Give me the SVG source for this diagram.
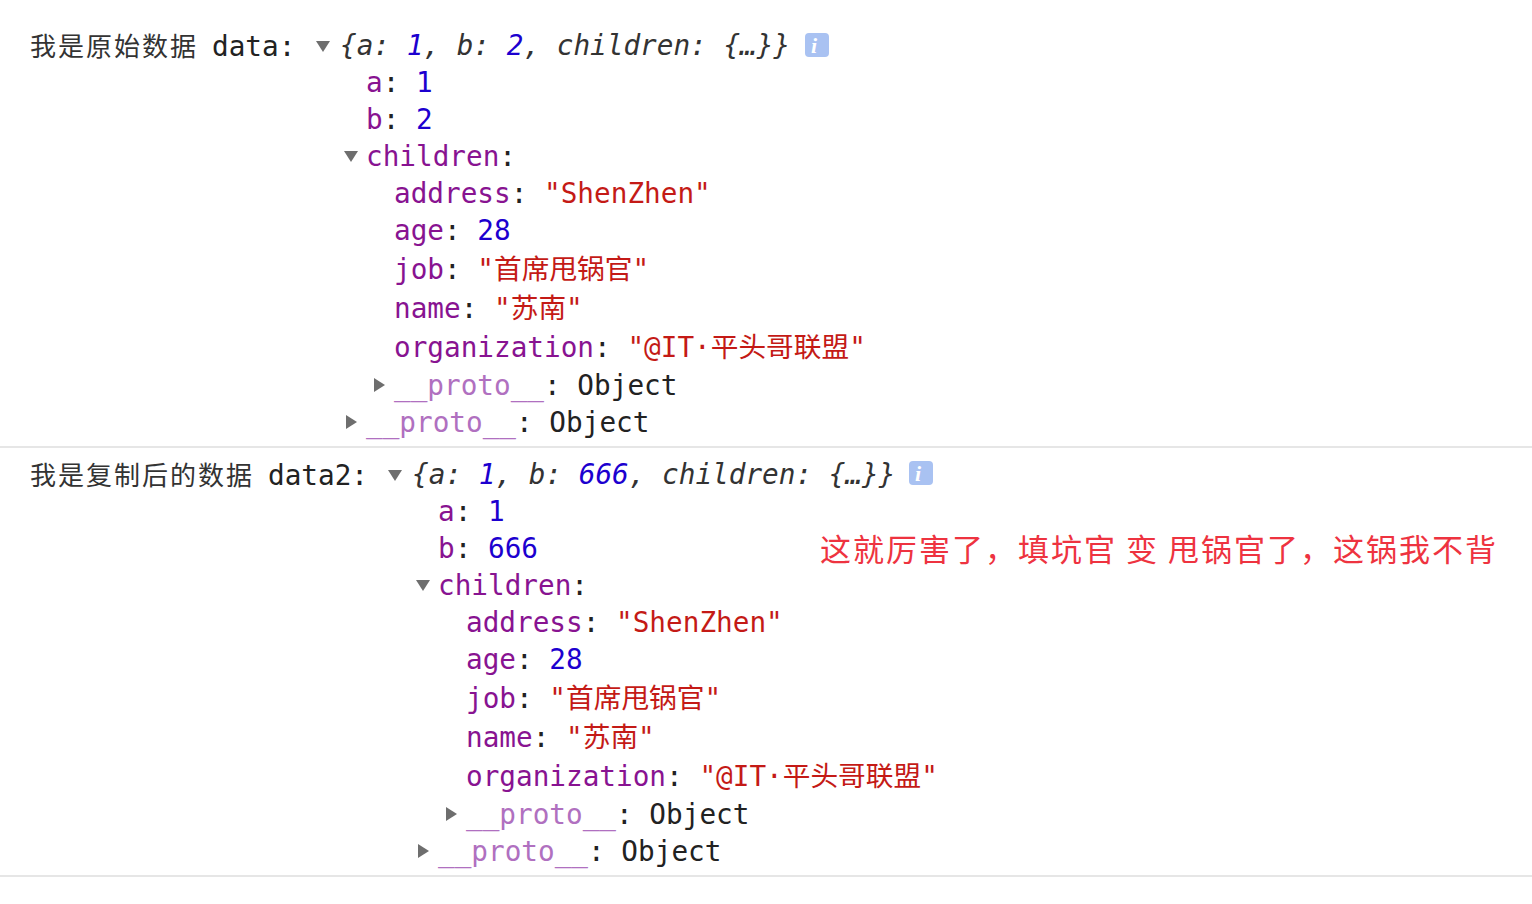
<svg xmlns="http://www.w3.org/2000/svg" width="1532" height="904" viewBox="0 0 1532 904">
<style>
text{font-family:"DejaVu Sans Mono","Noto Sans CJK SC",monospace;font-size:27.7px;fill:#222;white-space:pre}
.lbl{font-family:"Noto Sans CJK SC",sans-serif;font-size:26px;fill:#333}
.k{fill:#881391}.n{fill:#1c00cf}.s{fill:#c41a16}.p{fill:#b070c0}
.sum{font-style:italic;fill:#333}
.tri{fill:#6e6e6e}
.ann{font-family:"Noto Sans CJK SC",sans-serif;font-size:31px;fill:#ee3340}
.sep{stroke:#e6e6e6;stroke-width:2}
</style>
<rect width="1532" height="904" fill="#fff"/>
<g id="block1">
<text class="lbl" x="30" y="56" textLength="166">我是原始数据</text>
<text x="212" y="56">data:</text>
<path class="tri" d="M316 41h14l-7 11z"/>
<text class="sum" x="340" y="55">{a: <tspan class="n">1</tspan>, b: <tspan class="n">2</tspan>, children: {…}}</text>
<rect x="805" y="33" width="24" height="24" rx="4" fill="#a9c2f2"/>
<text x="811" y="53" style="font-family:'Liberation Serif',serif;font-style:italic;font-weight:bold;fill:#fff;font-size:22px">i</text>
<text x="366" y="92"><tspan class="k">a</tspan>: <tspan class="n">1</tspan></text>
<text x="366" y="129"><tspan class="k">b</tspan>: <tspan class="n">2</tspan></text>
<path class="tri" d="M344 151h14l-7 11z"/>
<text x="366" y="166"><tspan class="k">children</tspan>:</text>
<text x="394" y="203"><tspan class="k">address</tspan>: <tspan class="s">"ShenZhen"</tspan></text>
<text x="394" y="240"><tspan class="k">age</tspan>: <tspan class="n">28</tspan></text>
<text x="394" y="279"><tspan class="k">job</tspan>: <tspan class="s">"首席甩锅官"</tspan></text>
<text x="394" y="318"><tspan class="k">name</tspan>: <tspan class="s">"苏南"</tspan></text>
<text x="394" y="357"><tspan class="k">organization</tspan>: <tspan class="s">"@IT·平头哥联盟"</tspan></text>
<path class="tri" d="M374 378v14l11-7z"/>
<text x="394" y="395"><tspan class="p">__proto__</tspan>: Object</text>
<path class="tri" d="M346 415v14l11-7z"/>
<text x="366" y="432"><tspan class="p">__proto__</tspan>: Object</text>
</g>
<line class="sep" x1="0" y1="447" x2="1532" y2="447"/>
<g id="block2">
<text class="lbl" x="30" y="485" textLength="222">我是复制后的数据</text>
<text x="268" y="485">data2:</text>
<path class="tri" d="M388 470h14l-7 11z"/>
<text class="sum" x="412" y="484">{a: <tspan class="n">1</tspan>, b: <tspan class="n">666</tspan>, children: {…}}</text>
<rect x="909" y="461" width="24" height="24" rx="4" fill="#a9c2f2"/>
<text x="915" y="481" style="font-family:'Liberation Serif',serif;font-style:italic;font-weight:bold;fill:#fff;font-size:22px">i</text>
<text x="438" y="521"><tspan class="k">a</tspan>: <tspan class="n">1</tspan></text>
<text x="438" y="558"><tspan class="k">b</tspan>: <tspan class="n">666</tspan></text>
<path class="tri" d="M416 580h14l-7 11z"/>
<text x="438" y="595"><tspan class="k">children</tspan>:</text>
<text x="466" y="632"><tspan class="k">address</tspan>: <tspan class="s">"ShenZhen"</tspan></text>
<text x="466" y="669"><tspan class="k">age</tspan>: <tspan class="n">28</tspan></text>
<text x="466" y="708"><tspan class="k">job</tspan>: <tspan class="s">"首席甩锅官"</tspan></text>
<text x="466" y="747"><tspan class="k">name</tspan>: <tspan class="s">"苏南"</tspan></text>
<text x="466" y="786"><tspan class="k">organization</tspan>: <tspan class="s">"@IT·平头哥联盟"</tspan></text>
<path class="tri" d="M446 807v14l11-7z"/>
<text x="466" y="824"><tspan class="p">__proto__</tspan>: Object</text>
<path class="tri" d="M418 844v14l11-7z"/>
<text x="438" y="861"><tspan class="p">__proto__</tspan>: Object</text>
</g>
<line class="sep" x1="0" y1="876" x2="1532" y2="876"/>
<text class="ann" x="820" y="561" textLength="676">这就厉害了，填坑官 变 甩锅官了，这锅我不背</text>
</svg>
